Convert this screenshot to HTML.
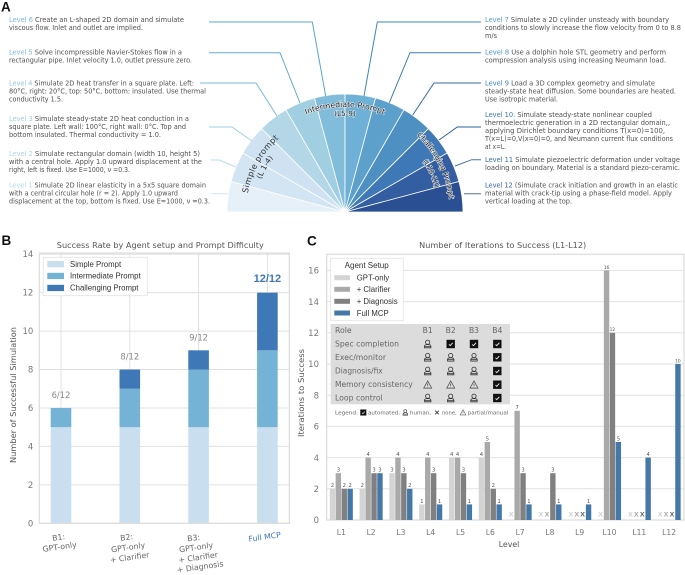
<!DOCTYPE html>
<html><head><meta charset="utf-8"><title>Agent setup figure</title>
<style>
html,body{margin:0;padding:0;background:#fff;width:685px;height:575px;overflow:hidden}
svg{display:block}
.m{font-family:"DejaVu Sans","Liberation Sans",sans-serif}
.l{font-family:"Liberation Sans",sans-serif}
.p{font-size:6.6px;fill:#505050}
.pl{font-weight:bold;font-size:13.5px;font-family:"Liberation Sans",sans-serif;fill:#111}
.conn{fill:none;stroke-width:1}
.halo{paint-order:stroke;stroke:#fff;fill:#222}
</style></head><body>
<svg xmlns="http://www.w3.org/2000/svg" width="685" height="575" viewBox="0 0 685 575">
<rect width="685" height="575" fill="#fff"/>
<text class="pl" x="1" y="11.5">A</text>
<text class="pl" x="1.5" y="245">B</text>
<text class="pl" x="307" y="245.5">C</text>

<g id="fan"></g>
<defs>
<path id="arcSimple" d="M246,212 A99,99 0 0 1 444,212"/>
<path id="arcSimple2" d="M255,212 A90,90 0 0 1 435,212"/>
<path id="arcMid" d="M240,212 A105,105 0 0 1 450,212"/>
<path id="arcMid2" d="M249,212 A96,96 0 0 1 441,212"/>
<path id="arcHard" d="M240,212 A105,105 0 0 1 450,212"/>
<path id="arcHard2" d="M252,212 A93,93 0 0 1 438,212"/>
</defs>
<g class="m" font-size="8.2" text-anchor="middle">
<text fill="#333" letter-spacing=".3"><textPath href="#arcSimple" startOffset="16.4%">Simple prompt</textPath></text>
<text fill="#333" font-size="7.5"><textPath href="#arcSimple2" startOffset="16.2%">(L 1-4)</textPath></text>
<text class="halo" stroke-width=".9" font-size="7.7"><textPath href="#arcMid" startOffset="50%">Intermediate Prompt</textPath></text>
<text class="halo" stroke-width=".9" font-size="7.2"><textPath href="#arcMid2" startOffset="50%">(L5-9)</textPath></text>
<text class="halo" stroke-width="1" font-size="7.4"><textPath href="#arcHard" startOffset="85%">Challenging Prompt</textPath></text>
<text class="halo" stroke-width="1" font-size="7"><textPath href="#arcHard2" startOffset="86.7%">(L10-12)</textPath></text>
</g>

<g>
<polyline class="conn" stroke="#5aa5cf" points="209,22 312.3,22 325.7,96"/>
<polyline class="conn" stroke="#62a9d0" points="209,52.7 280,52.7 300,103"/>
<polyline class="conn" stroke="#7ab8d8" points="200,83 256,83 277,116"/>
<polyline class="conn" stroke="#a2cfe4" points="209,127 232,127 252,141"/>
<polyline class="conn" stroke="#bcdcec" points="211,160 219,160 236,167"/>
<polyline class="conn" stroke="#d4e6f3" points="211,193.7 228,193.7"/>
<polyline class="conn" stroke="#3f85bb" points="481,22 377.3,22 364,96"/>
<polyline class="conn" stroke="#3b7cb5" points="481,52.7 410,52.7 389.3,102.7"/>
<polyline class="conn" stroke="#3568a6" points="481,83 434,83 412.7,115"/>
<polyline class="conn" stroke="#30609f" points="481,127 457.3,127 439,140"/>
<polyline class="conn" stroke="#4a70a8" points="481,159.7 471.7,159.7 455,166"/>
<polyline class="conn" stroke="#5a7191" points="481,193.7 464,193.7"/>
</g>

<g class="m p">
<g>
<text x="9" y="22" textLength="175" lengthAdjust="spacingAndGlyphs"><tspan fill="#7ab6d8">Level 6</tspan> Create an L-shaped 2D domain and simulate</text>
<text x="9" y="30" textLength="134" lengthAdjust="spacingAndGlyphs">viscous flow. Inlet and outlet are implied.</text></g>
<g>
<text x="9" y="54.5" textLength="173" lengthAdjust="spacingAndGlyphs"><tspan fill="#7ab6d8">Level 5</tspan> Solve incompressible Navier-Stokes flow in a</text>
<text x="9" y="62.5" textLength="183" lengthAdjust="spacingAndGlyphs">rectangular pipe. Inlet velocity 1.0, outlet pressure zero.</text></g>
<g>
<text x="9" y="85.5" textLength="185" lengthAdjust="spacingAndGlyphs"><tspan fill="#93c4de">Level 4</tspan> Simulate 2D heat transfer in a square plate. Left:</text>
<text x="9" y="93.5" textLength="197" lengthAdjust="spacingAndGlyphs">80°C, right: 20°C, top: 50°C, bottom: insulated. Use thermal</text>
<text x="9" y="101.5" textLength="54" lengthAdjust="spacingAndGlyphs">conductivity 1.5.</text></g>
<g>
<text x="9" y="121" textLength="180" lengthAdjust="spacingAndGlyphs"><tspan fill="#a0cde3">Level 3</tspan> Simulate steady-state 2D heat conduction in a</text>
<text x="9" y="129" textLength="177" lengthAdjust="spacingAndGlyphs">square plate. Left wall: 100°C, right wall: 0°C. Top and</text>
<text x="9" y="137" textLength="152" lengthAdjust="spacingAndGlyphs">bottom insulated. Thermal conductivity = 1.0.</text></g>
<g>
<text x="9" y="156" textLength="191" lengthAdjust="spacingAndGlyphs"><tspan fill="#b0d4e8">Level 2</tspan> Simulate rectangular domain (width 10, height 5)</text>
<text x="9" y="164" textLength="193" lengthAdjust="spacingAndGlyphs">with a central hole. Apply 1.0 upward displacement at the</text>
<text x="9" y="172" textLength="121" lengthAdjust="spacingAndGlyphs">right, left is fixed. Use E=1000, ν =0.3.</text></g>
<g>
<text x="9" y="187.5" textLength="197" lengthAdjust="spacingAndGlyphs"><tspan fill="#b8d8ea">Level 1</tspan> Simulate 2D linear elasticity in a 5x5 square domain</text>
<text x="9" y="195.5" textLength="169" lengthAdjust="spacingAndGlyphs">with a central circular hole (r = 2). Apply 1.0 upward</text>
<text x="9" y="203.5" textLength="201" lengthAdjust="spacingAndGlyphs">displacement at the top, bottom is fixed. Use E=1000, ν =0.3.</text></g>
</g>

<g class="m p">
<g>
<text x="485" y="22" textLength="184" lengthAdjust="spacingAndGlyphs"><tspan fill="#5a9ccb">Level 7</tspan> Simulate a 2D cylinder unsteady with boundary</text>
<text x="485" y="30" textLength="196" lengthAdjust="spacingAndGlyphs">conditions to slowly increase the flow velocity from 0 to 8.8</text>
<text x="485" y="38" textLength="12" lengthAdjust="spacingAndGlyphs">m/s</text></g>
<g>
<text x="485" y="54.5" textLength="181" lengthAdjust="spacingAndGlyphs"><tspan fill="#4f92c4">Level 8</tspan>  Use a dolphin hole STL geometry and perform</text>
<text x="485" y="62.5" textLength="181" lengthAdjust="spacingAndGlyphs">compression analysis using increasing Neumann load.</text></g>
<g>
<text x="485" y="85.5" textLength="170" lengthAdjust="spacingAndGlyphs"><tspan fill="#3f80b8">Level 9</tspan> Load a 3D complex geometry and simulate</text>
<text x="485" y="93.5" textLength="191" lengthAdjust="spacingAndGlyphs">steady-state heat diffusion. Some boundaries are heated.</text>
<text x="485" y="101.5" textLength="73" lengthAdjust="spacingAndGlyphs">Use isotropic material.</text></g>
<g>
<text x="485" y="117" textLength="167" lengthAdjust="spacingAndGlyphs"><tspan fill="#3d78b2">Level 10.</tspan> Simulate steady-state nonlinear coupled</text>
<text x="485" y="125" textLength="185" lengthAdjust="spacingAndGlyphs">thermoelectric generation in a 2D rectangular domain,,</text>
<text x="485" y="133" textLength="180" lengthAdjust="spacingAndGlyphs">applying Dirichlet boundary conditions T(x=0)=100,</text>
<text x="485" y="141" textLength="188" lengthAdjust="spacingAndGlyphs">T(x=L)=0,V(x=0)=0, and Neumann current flux conditions</text>
<text x="485" y="149" textLength="21" lengthAdjust="spacingAndGlyphs">at x=L.</text></g>
<g>
<text x="485" y="162" textLength="195" lengthAdjust="spacingAndGlyphs"><tspan fill="#3a6da8">Level 11</tspan> Simulate piezoelectric deformation under voltage</text>
<text x="485" y="170" textLength="195" lengthAdjust="spacingAndGlyphs">loading on boundary. Material is a standard piezo-ceramic.</text></g>
<g>
<text x="485" y="187.5" textLength="193" lengthAdjust="spacingAndGlyphs"><tspan fill="#34609f">Level 12</tspan> (Simulate crack initiation and growth in an elastic</text>
<text x="485" y="195.5" textLength="187" lengthAdjust="spacingAndGlyphs">material with crack-tip using a phase-field model. Apply</text>
<text x="485" y="203.5" textLength="87" lengthAdjust="spacingAndGlyphs">vertical loading at the top.</text></g>
</g>

<!-- Panel B -->
<g id="chartB">
<text class="m" x="160.3" y="247.8" text-anchor="middle" font-size="8" fill="#555" textLength="207" lengthAdjust="spacingAndGlyphs">Success Rate by Agent setup and Prompt Difficulty</text>
<text class="m" transform="translate(16,395) rotate(-90)" text-anchor="middle" font-size="8" fill="#555" textLength="136" lengthAdjust="spacingAndGlyphs">Number of Successful Simulation</text>
<g id="bGrid"></g>
<g id="bBars"></g>
<rect x="39.3" y="253" width="250" height="270.3" fill="none" stroke="#dcdcdc" stroke-width="1.2"/>
<g id="bTicks"></g>
<g class="m" font-size="7.8" fill="#666" text-anchor="middle">
<text transform="translate(59,540) rotate(-8)">B1:</text>
<text transform="translate(60,549.5) rotate(-8)">GPT-only</text>
<text transform="translate(127,540) rotate(-8)">B2:</text>
<text transform="translate(128.5,550) rotate(-8)">GPT-only</text>
<text transform="translate(130,560) rotate(-8)">+ Clarifier</text>
<text transform="translate(194,540.5) rotate(-8)">B3:</text>
<text transform="translate(196.5,550) rotate(-8)">GPT-only</text>
<text transform="translate(198.5,560) rotate(-8)">+ Clarifier</text>
<text transform="translate(200.5,569.5) rotate(-8)">+ Diagnosis</text>
<text transform="translate(265,539.5) rotate(-8)" fill="#3f78c0">Full MCP</text>
</g>
<g>
<rect x="43.3" y="257.3" width="104" height="38.4" fill="#fff" stroke="#e2e2e2" stroke-width=".8"/>
<rect x="47.3" y="261" width="16.7" height="6.3" fill="#c9dff0"/>
<rect x="47.3" y="272.8" width="16.7" height="6.3" fill="#74b3d5"/>
<rect x="47.3" y="284.8" width="16.7" height="6.3" fill="#3f78b6"/>
<g class="l" font-size="7.8" fill="#333">
<text x="70" y="267">Simple Prompt</text>
<text x="70" y="278.7">Intermediate Prompt</text>
<text x="70" y="290.7">Challenging Prompt</text>
</g></g>
</g>

<!-- Panel C -->
<g id="chartC">
<text class="m" x="502.7" y="247.8" text-anchor="middle" font-size="8" fill="#555" textLength="167" lengthAdjust="spacingAndGlyphs">Number of Iterations to Success (L1-L12)</text>
<text class="m" transform="translate(304,393) rotate(-90)" text-anchor="middle" font-size="8" fill="#555" textLength="88" lengthAdjust="spacingAndGlyphs">Iterations to Success</text>
<text class="m" x="509" y="547" text-anchor="middle" font-size="7.8" fill="#555">Level</text>
<g id="cGrid"></g>
<rect x="326.7" y="254.3" width="357.3" height="265.7" fill="none" stroke="#dcdcdc" stroke-width="1.2"/>
<g id="cBars"></g>
<g>
<rect x="330.7" y="258.3" width="72.6" height="62.4" fill="#fff" stroke="#e2e2e2" stroke-width=".8"/>
<text class="l" x="366.7" y="268" text-anchor="middle" font-size="8" fill="#333">Agent Setup</text>
<rect x="334.3" y="275.2" width="15.7" height="5" fill="#d4d4d4"/>
<rect x="334.3" y="286.8" width="15.7" height="5" fill="#a9a9a9"/>
<rect x="334.3" y="298.8" width="15.7" height="5" fill="#808080"/>
<rect x="334.3" y="310.5" width="15.7" height="5" fill="#4478a8"/>
<g class="l" font-size="7.8" fill="#333">
<text x="356.7" y="280.5">GPT-only</text>
<text x="356.7" y="292">+ Clarifier</text>
<text x="356.7" y="304">+ Diagnosis</text>
<text x="356.7" y="315.8">Full MCP</text>
</g></g>
<rect x="330.7" y="324" width="179.3" height="80.3" fill="#dcdcdc"/>
<g class="m" font-size="7.6" fill="#666">
<text x="335" y="332.8" textLength="16.7" lengthAdjust="spacingAndGlyphs">Role</text>
<text x="335" y="346.5" textLength="64" lengthAdjust="spacingAndGlyphs">Spec completion</text>
<text x="335" y="359.8" textLength="51" lengthAdjust="spacingAndGlyphs">Exec/monitor</text>
<text x="335" y="373.5" textLength="47.7" lengthAdjust="spacingAndGlyphs">Diagnosis/fix</text>
<text x="335" y="387.2" textLength="77.7" lengthAdjust="spacingAndGlyphs">Memory consistency</text>
<text x="335" y="400.5" textLength="47.7" lengthAdjust="spacingAndGlyphs">Loop control</text>
<g text-anchor="middle">
<text x="427.7" y="332.8">B1</text>
<text x="450.7" y="332.8">B2</text>
<text x="474" y="332.8">B3</text>
<text x="497.3" y="332.8">B4</text>
</g></g>
<g id="cIcons"></g>
<g class="m" font-size="5.2" fill="#666">
<text x="335" y="414.3" textLength="23" lengthAdjust="spacingAndGlyphs">Legend:</text>
<text x="368" y="414.3" textLength="32" lengthAdjust="spacingAndGlyphs">automated,</text>
<text x="410" y="414.3" textLength="21" lengthAdjust="spacingAndGlyphs">human,</text>
<text x="442" y="414.3" textLength="14.7" lengthAdjust="spacingAndGlyphs">none,</text>
<text x="467.7" y="414.3" textLength="40.6" lengthAdjust="spacingAndGlyphs">partial/manual</text>
</g>
</g>
</svg>
<script>
// Panel B data
const agentSetups = ['B1', 'B2', 'B3', 'Full MCP'];
const simplePrompt = [5, 5, 5, 5];
const intermediatePrompt = [1, 2, 3, 4];
const challengingPrompt = [0, 1, 1, 3];
const successTicks = [0, 2, 4, 6, 8, 10, 12, 14];
const totalLevels = 12;

// Panel C data
const levels = ['L1','L2','L3','L4','L5','L6','L7','L8','L9','L10','L11','L12'];
const gptOnly   = [2,2,3,1,4,4,null,null,null,null,null,null];
const clarifier = [3,4,4,4,4,5,7,null,null,16,null,null];
const diagnosis = [2,3,3,3,3,2,3,3,null,12,null,null];
const fullMcp   = [2,3,2,1,1,1,1,1,1,5,4,10];
const iterationTicks = [0, 2, 4, 6, 8, 10, 12, 14, 16];

// Role table data: a automated, h human, p partial
const roleRows = [
  ['h','a','a','a'],
  ['h','h','h','a'],
  ['h','h','h','a'],
  ['p','p','p','a'],
  ['h','h','h','a']
];

// Fan data: twelve levels, equal share
const fanLevels = [1,2,3,4,5,6,7,8,9,10,11,12];

const NS = 'http://www.w3.org/2000/svg';
function mk(tag, attrs, parent) {
  const e = document.createElementNS(NS, tag);
  for (const k in attrs) e.setAttribute(k, attrs[k]);
  parent.appendChild(e);
  return e;
}

// Fan
const fanFill = ['#e6f0f9','#d3e4f2','#cfe2f1','#b4d7e8','#a0cfe1','#82bcdb','#6eb0d6','#5ca0cb','#4e90c2','#3f78b6','#335fa2','#2a4f92'];
const fanG = document.getElementById('fan');
const fanCx = 345, fanCy = 212, fanR = 118;
fanLevels.forEach((lv, i) => {
  const step = Math.PI / fanLevels.length;
  const a0 = i * step, a1 = (i + 1) * step;
  const d = 'M' + fanCx + ',' + fanCy +
    ' L' + (fanCx - fanR * Math.cos(a0)) + ',' + (fanCy - fanR * Math.sin(a0)) +
    ' A' + fanR + ',' + fanR + ' 0 0 1 ' + (fanCx - fanR * Math.cos(a1)) + ',' + (fanCy - fanR * Math.sin(a1)) + ' Z';
  const el = mk('path', {d: d, fill: fanFill[i], stroke: '#fff', 'stroke-width': 0.8}, fanG);
  
  
});

// Panel B axes
const yB = v => 523.3 - v * 19.22;
const xB = i => 61 + i * 68.8;
const barW = 20.6;
const bGrid = document.getElementById('bGrid');
const bTicks = document.getElementById('bTicks');
const bBars = document.getElementById('bBars');
successTicks.forEach(t => {
  const g = mk('line', {x1: 39.3, x2: 289, y1: yB(t), y2: yB(t), stroke: '#e0e0e0', 'stroke-width': 1}, bGrid);
  
  
  const lb = mk('text', {x: 33.3, y: yB(t) + 3, 'text-anchor': 'end', 'font-size': 8.5, fill: '#777', class: 'm'}, bTicks);
  lb.textContent = t;
  
  
});
agentSetups.forEach((c, i) => {
  const g = mk('line', {x1: xB(i), x2: xB(i), y1: 253, y2: 523.3, stroke: '#e0e0e0', 'stroke-width': 1}, bGrid);
  
  
});
const stackSeries = [
  {vals: simplePrompt, fill: '#c9dff0', key: 'simple'},
  {vals: intermediatePrompt, fill: '#74b3d5', key: 'intermediate'},
  {vals: challengingPrompt, fill: '#3f78b6', key: 'challenging'}
];
agentSetups.forEach((c, i) => {
  let base = 0;
  stackSeries.forEach(s => {
    const v = s.vals[i];
    if (v > 0) {
      const r = mk('rect', {x: xB(i) - barW / 2, y: yB(base + v), width: barW, height: yB(base) - yB(base + v), fill: s.fill}, bBars);
      
      
    }
    base += v;
  });
  const last = i === agentSetups.length - 1;
  const t = mk('text', {
    x: xB(i), y: last ? yB(base) - 10.5 : yB(base) - 10,
    'text-anchor': 'middle', class: last ? 'l' : 'm',
    'font-size': last ? 11 : 8.4, 'font-weight': last ? 'bold' : 'normal',
    fill: last ? '#3f78b6' : '#888'
  }, bBars);
  t.textContent = base + '/' + totalLevels;
  
  
});

// Panel C axes
const yC = v => 520 - v * 15.6;
const xC = i => 341.3 + i * 29.8;
const slot = 5.9, cBarW = 5.4;
const cGrid = document.getElementById('cGrid');
const cBars = document.getElementById('cBars');
iterationTicks.forEach(t => {
  const g = mk('line', {x1: 326.7, x2: 684, y1: yC(t), y2: yC(t), stroke: '#e2e2e2', 'stroke-width': 1}, cGrid);
  
  
  const lb = mk('text', {x: 319, y: yC(t) + 3.2, 'text-anchor': 'end', 'font-size': 8.5, fill: '#777', class: 'm'}, cGrid);
  lb.textContent = t;
  
  
});
const groupSeries = [
  {vals: gptOnly, fill: '#d4d4d4', x: '#d2d2d2', key: 'gpt-only'},
  {vals: clarifier, fill: '#a9a9a9', x: '#aaaaaa', key: 'clarifier'},
  {vals: diagnosis, fill: '#808080', x: '#6e6e6e', key: 'diagnosis'},
  {vals: fullMcp, fill: '#4478a8', x: '#4478a8', key: 'full-mcp'}
];
levels.forEach((lv, i) => {
  const tl = mk('text', {x: xC(i), y: 535, 'text-anchor': 'middle', 'font-size': 7.6, fill: '#777', class: 'm'}, cBars);
  tl.textContent = lv;
  
  
  groupSeries.forEach((s, k) => {
    const v = s.vals[i];
    const cx = xC(i) + (k - 1.5) * slot;
    if (v === null) {
      const xm = mk('text', {x: cx, y: 516.6, 'text-anchor': 'middle', 'font-size': 8.5, 'font-weight': 'bold', fill: s.x, class: 'l'}, cBars);
      xm.textContent = 'x';
      
      
    } else {
      const r = mk('rect', {x: cx - cBarW / 2, y: yC(v), width: cBarW, height: yC(0) - yC(v), fill: s.fill}, cBars);
      
      
      const t = mk('text', {x: cx, y: yC(v) - 1.6, 'text-anchor': 'middle', 'font-size': v >= 10 ? 4.4 : 5.2, fill: '#555', class: 'm'}, cBars);
      t.textContent = v;
      
      
    }
  });
});

// Role icons
const icons = document.getElementById('cIcons');
function drawIcon(kind, cx, cy, s) {
  const g = mk('g', {transform: 'translate(' + cx + ',' + cy + ') scale(' + s + ')', fill: 'none'}, icons);
  
  
  if (kind === 'a') {
    mk('rect', {x: -4.2, y: -4.2, width: 8.4, height: 8.4, fill: '#111'}, g);
    mk('polyline', {points: '-1.8,0.4 -0.5,1.6 2,-1.2', stroke: '#eee', 'stroke-width': 0.9}, g);
  } else if (kind === 'h') {
    mk('circle', {cx: 0, cy: -1.8, r: 2.1, stroke: '#333', 'stroke-width': 0.8}, g);
    mk('path', {d: 'M-3.2,3.8 V2.2 Q-3,0.6 -1,0.6 H1 Q3,0.6 3.2,2.2 V3.8 Z M-2.8,2.4 H2.8', stroke: '#333', 'stroke-width': 0.8}, g);
  } else if (kind === 'p') {
    mk('path', {d: 'M0,-3.8 L4,3.4 H-4 Z', stroke: '#444', 'stroke-width': 0.7}, g);
    mk('line', {x1: 0, y1: -1.2, x2: 0, y2: 1.2, stroke: '#444', 'stroke-width': 0.7}, g);
    mk('circle', {cx: 0, cy: 2.3, r: 0.35, fill: '#444'}, g);
  } else {
    mk('path', {d: 'M-2.6,-2.6 L2.6,2.6 M2.6,-2.6 L-2.6,2.6', stroke: '#222', 'stroke-width': 1.1}, g);
  }
}
const colX = [427.7, 450.7, 474, 497.3];
const rowY = [344, 357.3, 371, 384.7, 398];
roleRows.forEach((row, r) => row.forEach((k, c) => drawIcon(k, colX[c], rowY[r], 1)));
drawIcon('a', 363.3, 412.5, 0.72);
drawIcon('h', 405.3, 412.5, 0.72);
drawIcon('n', 437, 412.5, 0.72);
drawIcon('p', 463, 412.5, 0.72);
</script>
</body></html>
